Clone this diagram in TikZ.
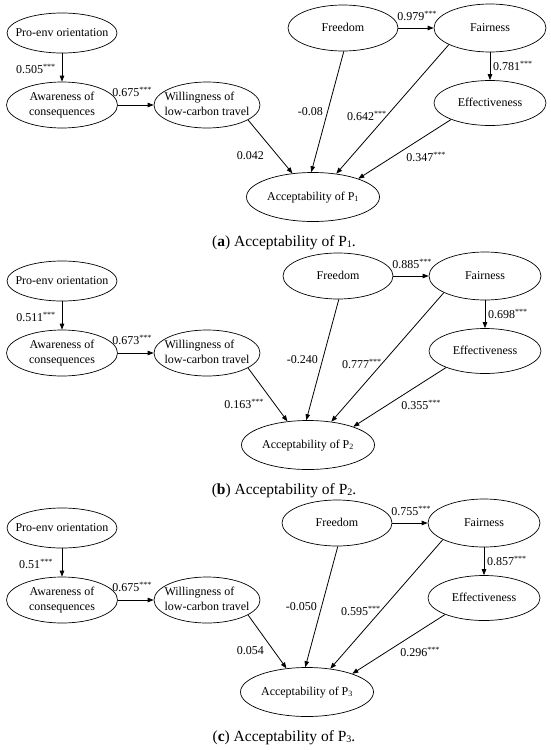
\documentclass[tikz,border=0pt]{standalone}
\usepackage{fontspec}
\setmainfont{Liberation Serif}
\usetikzlibrary{shapes.geometric,arrows.meta}
\tikzset{
  var/.style={ellipse,draw,line width=0.7pt,inner sep=0pt,minimum width=110pt,minimum height=46pt,font=\fontsize{12}{15}\selectfont},
  conn/.style={line width=0.8pt,-{Triangle[length=6pt,width=4.5pt]}},
  coef/.style={inner sep=0pt,font=\fontsize{12}{14}\selectfont},
  captext/.style={inner sep=0pt,font=\fontsize{15.5}{18}\selectfont},
}
\newcommand\nt[1]{\makebox[0pt]{\begin{tabular}{@{}c@{}}#1\end{tabular}}}
\newcommand\ntl[1]{\makebox[0pt]{\begin{tabular}{@{}l@{}}#1\end{tabular}}}
\newcommand\st{\textsuperscript{***}}
\newcommand\drawpanel[4]{%
 \begin{scope}[shift={(0,#2)}]
  \node[var,minimum height=40pt] (pro#1) at (62,33) {\nt{Pro-env orientation}};
  \node[var,minimum width=111pt] (aw#1) at (62,105) {\nt{Awareness of\\consequences}};
  \node[var,minimum width=106pt] (will#1) at (207,105) {\ntl{Willingness of\\low-carbon travel}};
  \node[var] (fr#1) at (339+\rs,28) {\nt{Freedom}};
  \node[var,minimum width=112pt,minimum height=48pt] (fa#1) at (486+\rs,28) {\nt{Fairness}};
  \node[var,minimum width=112pt,minimum height=45pt] (ef#1) at (486+\rs,103) {\nt{Effectiveness}};
  \node[var,minimum width=133pt,minimum height=49pt] (acc#1) at (309+\rs,197) {\nt{Acceptability of P\textsubscript{#3}}};
  \draw[conn] (pro#1) -- (aw#1);
  \draw[conn] (aw#1) -- (will#1);
  \draw[conn] (will#1.-20) -- (acc#1.131);
  \draw[conn] (fr#1) -- (fa#1);
  \draw[conn] (fa#1) -- (ef#1);
  \draw[conn] (fr#1.-88) -- (acc#1.94);
  \draw[conn] (fa#1.-158) -- (acc#1.45);
  \draw[conn] (ef#1.-157) -- (acc#1.22);
  \node[captext] (cap#1) at (284,243) {(\textbf{#4}) Acceptability of P\raisebox{-0.5pt}{\fontsize{10}{10}\selectfont #3}.};
 \end{scope}}
\newcommand\coefs[9]{%
 \begin{scope}[shift={(0,#1)}]
  \node[coef] (pa#1) at (36,69) {#2};
  \node[coef] (aw#1) at (132,92) {#3};
  \node[coef,anchor=east] (wa#1) at (264,156) {#4};
  \node[coef,anchor=east] (fra#1) at (319+\rs,112) {#5};
  \node[coef,anchor=west] (faa#1) at (343+\rs,116) {#6};
  \node[coef] (ff#1) at (413+\rs,16) {#7};
  \node[coef,anchor=west] (fe#1) at (489+\rs,66) {#8};
  \node[coef] (ea#1) at (422+\rs,157) {#9};
 \end{scope}}
\begin{document}
\begin{tikzpicture}[x=1pt,y=-1pt]
\fill[white] (0,0) rectangle (550,750);
\useasboundingbox (0,0) rectangle (550,750);
\def\rs{4}
\drawpanel{A}{0}{1}{a}
\coefs{0}{0.505\st}{0.675\st}{0.042}{-0.08}{0.642\st}{0.979\st}{0.781\st}{0.347\st}
\def\rs{-1}
\drawpanel{B}{248}{2}{b}
\coefs{248}{0.511\st}{0.673\st}{0.163\st}{-0.240}{0.777\st}{0.885\st}{0.698\st}{0.355\st}
\def\rs{-2}
\drawpanel{C}{495}{3}{c}
\coefs{495}{0.51\st}{0.675\st}{0.054}{-0.050}{0.595\st}{0.755\st}{0.857\st}{0.296\st}
\end{tikzpicture}
\end{document}
